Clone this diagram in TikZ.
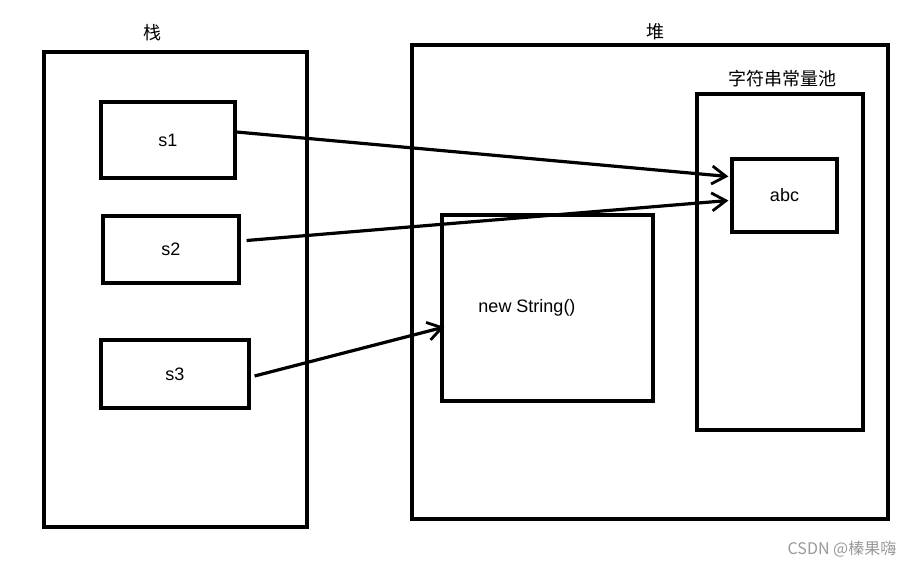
\documentclass[tikz,border=0pt]{standalone}
\usepackage{fontspec}
\setmainfont{Liberation Sans}
\newfontfamily\cjk{Noto Sans CJK SC}
\usetikzlibrary{arrows.meta}
\begin{document}
\begin{tikzpicture}[x=0.5pt,y=-0.5pt,
    box/.style={draw, line width=1.6pt, inner sep=0pt},
    ref/.style={line width=1.6pt, -{Straight Barb[length=7pt,width=9pt,line width=1.4pt]}},
    lbl/.style={font=\cjk\fontsize{9}{10}\selectfont}]
    \useasboundingbox (0,0) rectangle (922,568);
    % stack
    \node [box, minimum width=131.5pt, minimum height=237.5pt] (stack) at (175.5,289.5) {};
    \node [lbl] (stacklbl) at (152,33) {栈};
    \foreach \n/\x/\y/\w/\h in {s1/168/140/67/38, s2/171/249.5/68/33.5, s3/175/374/74/34}
    {
        \node [box, minimum width=\w pt, minimum height=\h pt, font=\fontsize{9}{10}\selectfont] (\n) at (\x,\y) {\n};
    }
    % heap
    \node [box, minimum width=238pt, minimum height=237pt] (heap) at (650,282) {};
    \node [lbl] (heaplbl) at (655,32) {堆};
    \node [box, minimum width=83pt, minimum height=168pt] (pool) at (780,262) {};
    \node [lbl] (poollbl) at (782,79) {字符串常量池};
    \node [box, minimum width=52.5pt, minimum height=36.5pt, font=\fontsize{9}{10}\selectfont] (abc) at (784.5,195.5) {abc};
    \node [box, minimum width=105.5pt, minimum height=93pt] (newstr) at (547.5,308) {};
    \node [font=\fontsize{9}{10}\selectfont] (newlbl) at (527,308) {new String()};
    % references
    \draw [ref] ([yshift=4pt]s1.east) -- ([yshift=9.5pt,xshift=-1pt]abc.west);
    \draw [ref] ([yshift=4.5pt,xshift=3pt]s2.east) -- ([yshift=-2.5pt,xshift=-1pt]abc.west);
    \draw [ref] ([yshift=-1pt,xshift=2pt]s3.east) -- ([yshift=-9.5pt,xshift=2pt]newstr.west);
    \node [text=black!40, font=\cjk\fontsize{8}{9}\selectfont] (mark) at (842,549) {CSDN @榛果嗨};
\end{tikzpicture}
\end{document}
